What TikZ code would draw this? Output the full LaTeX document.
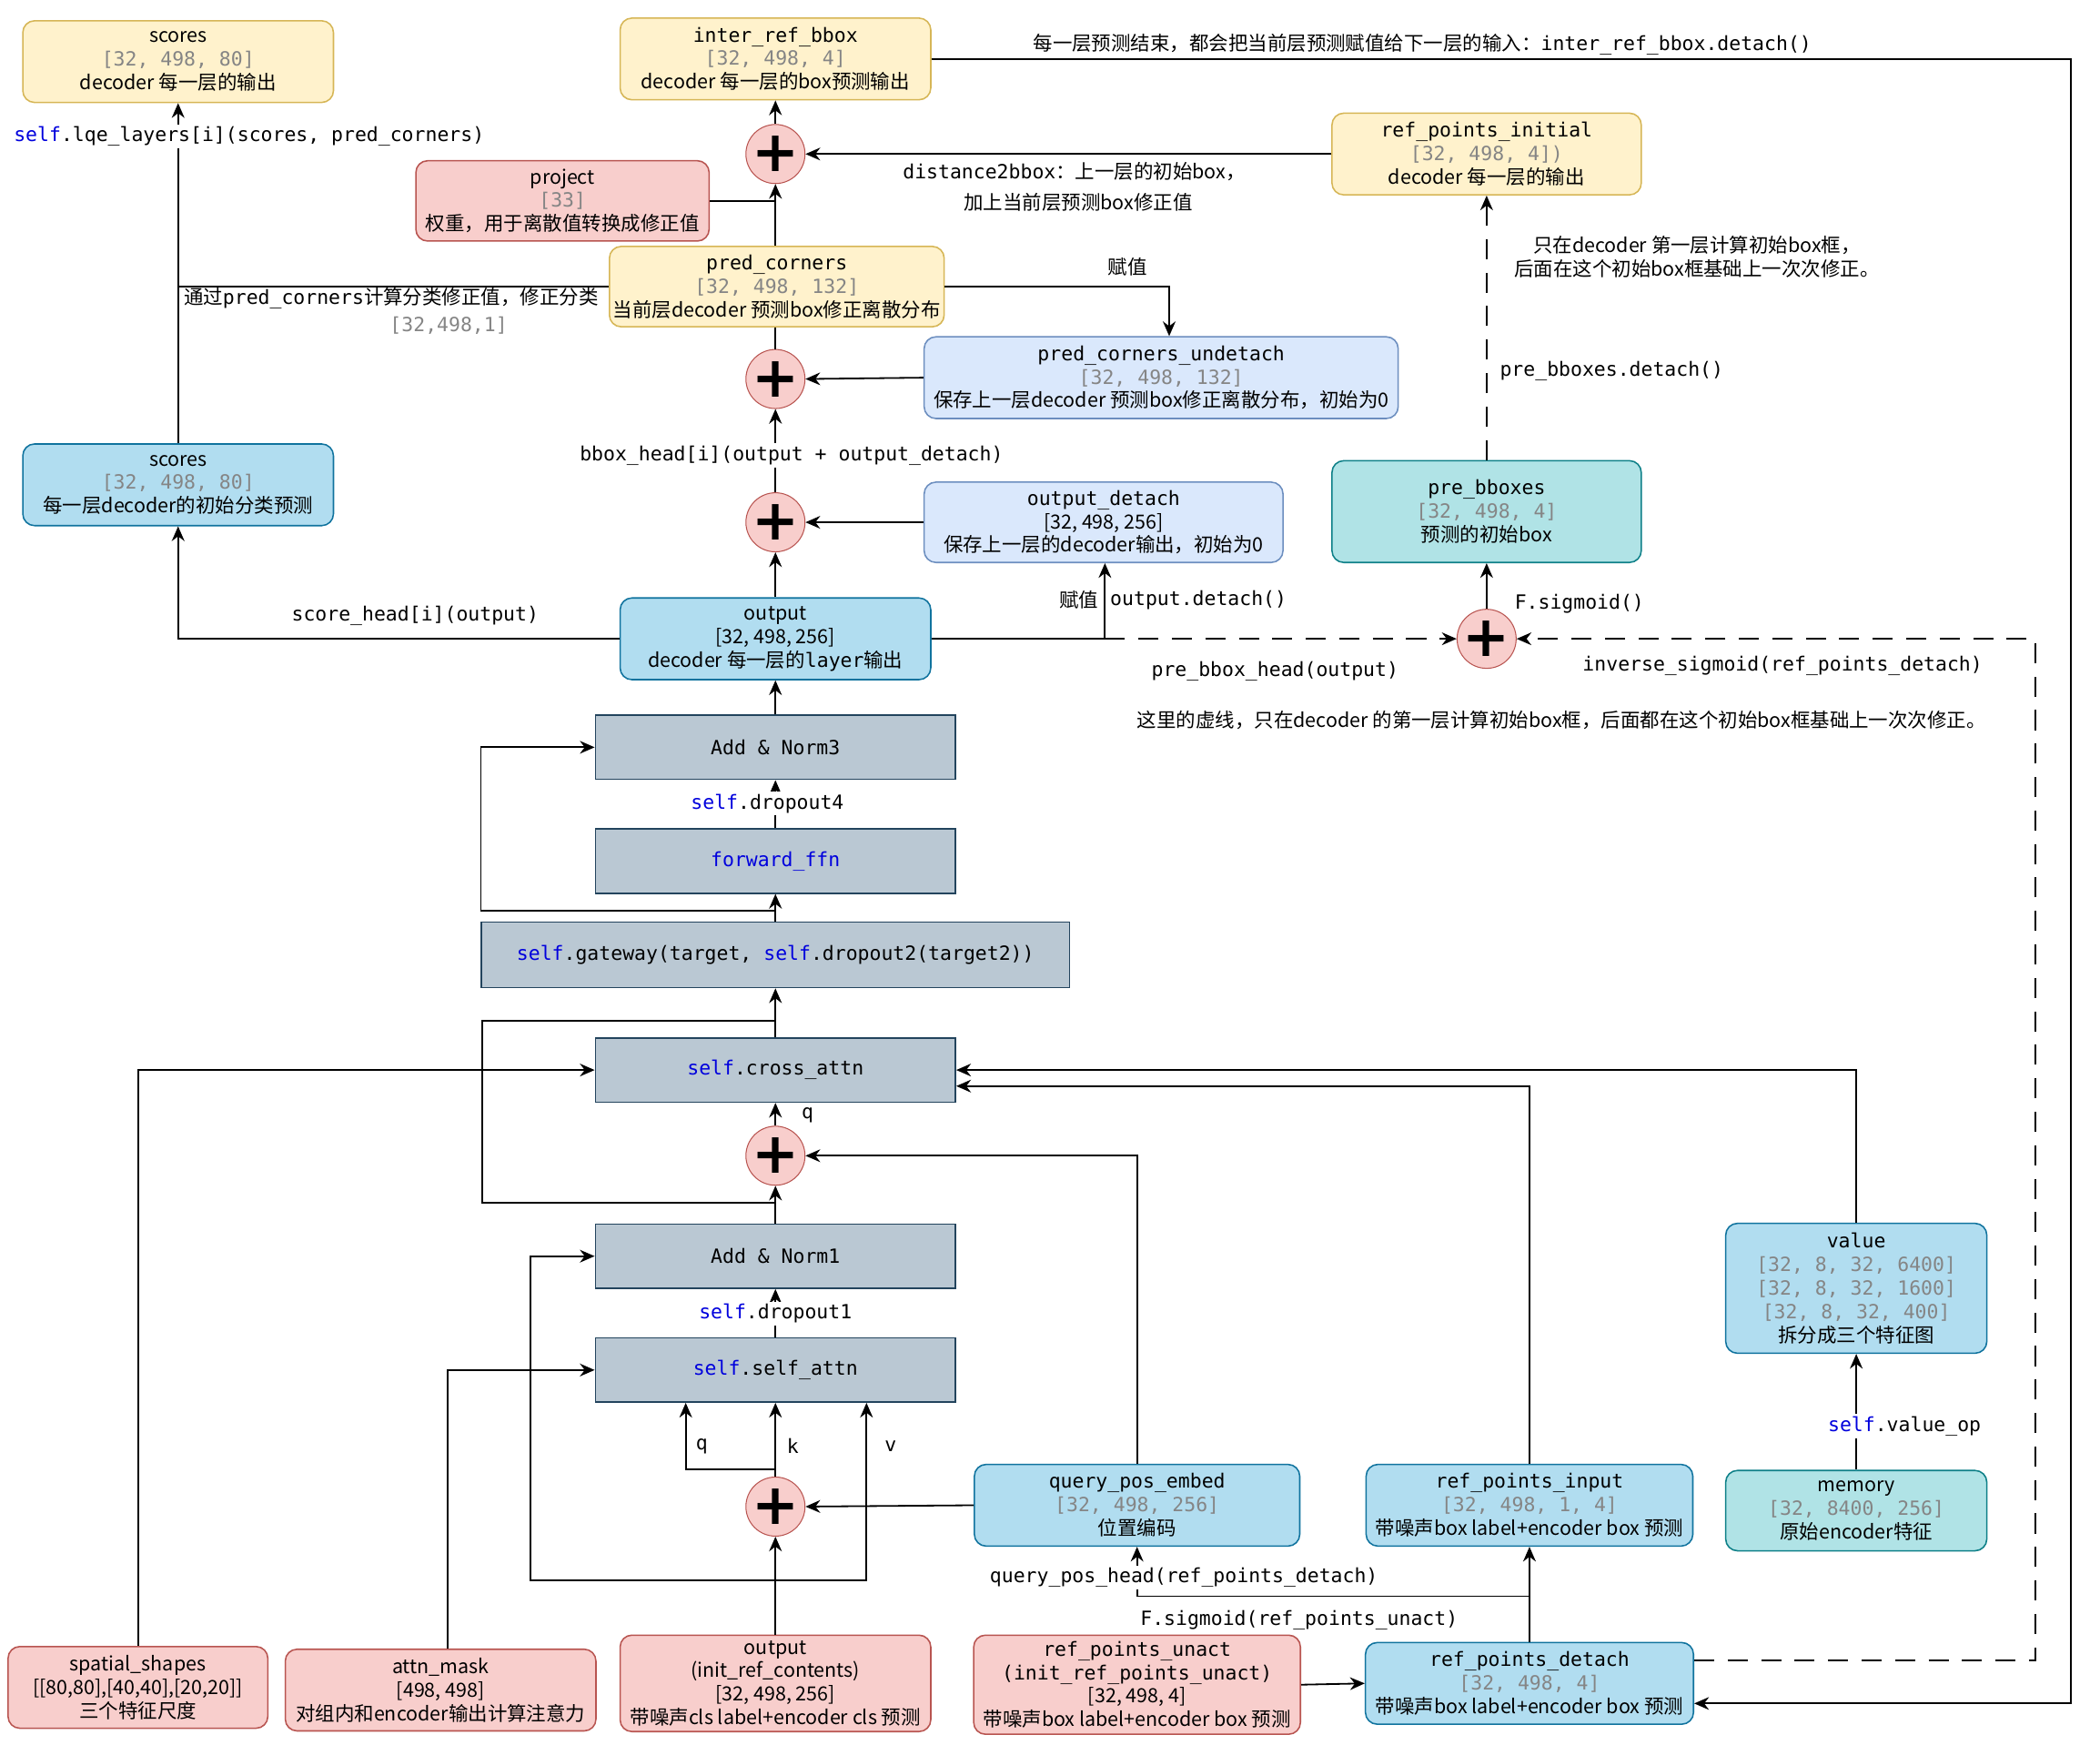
\documentclass[tikz,border=0pt]{standalone}
\usepackage{fontspec}
\setmainfont{Noto Sans CJK SC}
\newfontfamily\codefont{DejaVu Sans Mono}
\newfontfamily\plusfont{DejaVu Sans}
\usetikzlibrary{arrows.meta,positioning}
\definecolor{yellowfill}{HTML}{FFF2CC}
\definecolor{yellowline}{HTML}{D6B656}
\definecolor{redfill}{HTML}{F8CECC}
\definecolor{redline}{HTML}{B85450}
\definecolor{palefill}{HTML}{DAE8FC}
\definecolor{paleline}{HTML}{6C8EBF}
\definecolor{skyfill}{HTML}{B1DDF0}
\definecolor{skyline}{HTML}{10739E}
\definecolor{tealfill}{HTML}{B0E3E6}
\definecolor{tealline}{HTML}{0E8088}
\definecolor{slatefill}{HTML}{BAC8D3}
\definecolor{slateline}{HTML}{23445D}
\definecolor{dimgray}{HTML}{858585}
\definecolor{selfblue}{HTML}{0000DD}
\newcommand{\codetxt}[1]{{\codefont #1}}
\newcommand{\dimtxt}[1]{{\codefont\color{dimgray}#1}}
\newcommand{\selfkw}{{\color{selfblue}self}}

\begin{document}
\begin{tikzpicture}[
  x=0.02cm,
  y=-0.02cm,
  every node/.style={font=\fontsize{8.3}{10}\selectfont, align=center, inner sep=1.5pt},
  box/.style={draw, rounded corners=5pt, line width=0.6pt},
  yellowNode/.style={box, fill=yellowfill, draw=yellowline},
  redNode/.style={box, fill=redfill, draw=redline},
  paleNode/.style={box, fill=palefill, draw=paleline},
  skyNode/.style={box, fill=skyfill, draw=skyline},
  tealNode/.style={box, fill=tealfill, draw=tealline},
  layerNode/.style={draw=slateline, fill=slatefill, line width=0.6pt, minimum width=5.38cm, minimum height=0.96cm, font=\codefont\fontsize{8.3}{10}\selectfont},
  plusNode/.style={circle, draw=redline, fill=redfill, minimum size=0.86cm, inner sep=0pt, font=\plusfont\bfseries\fontsize{24}{24}\selectfont},
  codeLabel/.style={font=\codefont\fontsize{8.3}{10}\selectfont},
  cover/.style={fill=white, inner sep=1pt},
  arr/.style={-{Stealth[length=2.2mm, width=1.9mm]}, line width=0.7pt},
  link/.style={line width=0.7pt},
  dashLine/.style={dash pattern=on 0.3cm off 0.2cm}
]
  \useasboundingbox (0,0) rectangle (1568,1303);

  % Box predictions, upper half.
  \node[yellowNode, minimum width=4.64cm, minimum height=1.22cm] (scoresTop) at (133,46) {scores\\\dimtxt{[32, 498, 80]}\\decoder 每一层的输出};
  \node[yellowNode, minimum width=4.64cm, minimum height=1.22cm] (interBbox) at (579,44) {\codetxt{inter\_ref\_bbox}\\\dimtxt{[32, 498, 4]}\\decoder 每一层的box预测输出};
  \node[plusNode] (plusA) at (579,115) {+};
  \node[redNode, minimum width=4.38cm, minimum height=1.2cm] (project) at (420,150) {project\\\dimtxt{[33]}\\权重，用于离散值转换成修正值};
  \node[yellowNode, minimum width=4.62cm, minimum height=1.22cm] (refInit) at (1110,115) {\codetxt{ref\_points\_initial}\\\dimtxt{[32, 498, 4])}\\decoder 每一层的输出};
  \node[yellowNode, minimum width=5.0cm, minimum height=1.2cm] (predCorners) at (580,214) {\codetxt{pred\_corners}\\\dimtxt{[32, 498, 132]}\\当前层decoder 预测box修正离散分布};
  \node[paleNode, minimum width=7.08cm, minimum height=1.22cm] (predUndet) at (867,282) {\codetxt{pred\_corners\_undetach}\\\dimtxt{[32, 498, 132]}\\保存上一层decoder 预测box修正离散分布，初始为0};
  \node[plusNode] (plusB) at (579,283) {+};
  \node[plusNode] (plusC) at (579,390) {+};
  \node[paleNode, minimum width=5.36cm, minimum height=1.2cm] (outDetach) at (824,390) {\codetxt{output\_detach}\\{[32, 498, 256]}\\保存上一层的decoder输出，初始为0};
  \node[skyNode, minimum width=4.64cm, minimum height=1.22cm] (scoresInit) at (133,362) {scores\\\dimtxt{[32, 498, 80]}\\每一层decoder的初始分类预测};
  \node[skyNode, minimum width=4.64cm, minimum height=1.22cm] (layerOut) at (579,477) {output\\{[32, 498, 256]}\\decoder 每一层的\codetxt{layer}输出};
  \node[tealNode, minimum width=4.62cm, minimum height=1.52cm] (preBboxes) at (1110,382) {\codetxt{pre\_bboxes}\\\dimtxt{[32, 498, 4]}\\预测的初始box};
  \node[plusNode] (plusD) at (1110,477) {+};

  % Decoder layer stack.
  \node[layerNode] (normThree) at (579,558) {Add \& Norm3};
  \node[layerNode] (ffn) at (579,643) {\textcolor{selfblue}{forward\_ffn}};
  \node[layerNode, minimum width=8.78cm, minimum height=0.98cm] (gateway) at (579,713) {\selfkw.gateway(target, \selfkw.dropout2(target2))};
  \node[layerNode] (crossAttn) at (579,799) {\selfkw.cross\_attn};
  \node[plusNode] (plusE) at (579,863) {+};
  \node[layerNode] (normOne) at (579,938) {Add \& Norm1};
  \node[layerNode] (selfAttn) at (579,1023) {\selfkw.self\_attn};
  \node[plusNode] (plusF) at (579,1125) {+};

  % Layer inputs.
  \node[skyNode, minimum width=4.86cm, minimum height=1.22cm] (queryPos) at (849,1124) {\codetxt{query\_pos\_embed}\\\dimtxt{[32, 498, 256]}\\位置编码};
  \node[skyNode, minimum width=4.88cm, minimum height=1.22cm] (refInput) at (1142,1124) {\codetxt{ref\_points\_input}\\\dimtxt{[32, 498, 1, 4]}\\带噪声box label+encoder box 预测};
  \node[skyNode, minimum width=3.9cm, minimum height=1.94cm] (valueMap) at (1386,962) {\codetxt{value}\\\dimtxt{[32, 8, 32, 6400]}\\\dimtxt{[32, 8, 32, 1600]}\\\dimtxt{[32, 8, 32, 400]}\\拆分成三个特征图};
  \node[tealNode, minimum width=3.9cm, minimum height=1.2cm] (memory) at (1386,1128) {memory\\\dimtxt{[32, 8400, 256]}\\原始encoder特征};
  \node[skyNode, minimum width=4.9cm, minimum height=1.22cm] (refDetach) at (1142,1257) {\codetxt{ref\_points\_detach}\\\dimtxt{[32, 498, 4]}\\带噪声box label+encoder box 预测};
  \node[redNode, minimum width=4.88cm, minimum height=1.48cm] (refUnact) at (849,1258) {\codetxt{ref\_points\_unact}\\\codetxt{(init\_ref\_points\_unact)}\\{[32, 498, 4]}\\带噪声box label+encoder box 预测};
  \node[redNode, minimum width=4.64cm, minimum height=1.44cm] (initOut) at (579,1257) {output\\(init\_ref\_contents)\\{[32, 498, 256]}\\带噪声cls label+encoder cls 预测};
  \node[redNode, minimum width=4.64cm, minimum height=1.22cm] (attnMask) at (329,1262) {attn\_mask\\{[498, 498]}\\对组内和encoder输出计算注意力};
  \node[redNode, minimum width=3.88cm, minimum height=1.22cm] (spatial) at (103,1260) {spatial\_shapes\\{[[80,80],[40,40],[20,20]]}\\三个特征尺度};

  % Bend and tap points.
  \coordinate (detachTap) at (825,477);
  \coordinate (dashLow) at (1520,1240);
  \coordinate (loopTop) at (1546,44);
  \coordinate (loopLow) at (1546,1272);
  \coordinate (ffnTap) at (579,680);
  \coordinate (gateTap) at (579,762);
  \coordinate (crossTap) at (579,898);
  \coordinate (qTap) at (579,1097);
  \coordinate (vTap) at (579,1180);
  \coordinate (posTap) at (1142,1192);

  % Upper connectors.
  \draw[arr] (plusA.north) -- (interBbox.south);
  \draw[arr] (refInit.west) -- (plusA.east);
  \draw[arr] (predCorners.north -| plusA) -- (plusA.south);
  \draw[link] (project.east) -- (project.east -| plusA);
  \draw[link] (predCorners.west) -- (predCorners.west -| scoresInit);
  \draw[arr] (scoresInit.north) -- (scoresTop.south);
  \draw[arr] (predCorners.east) -| ([xshift=0.12cm]predUndet.north);
  \draw[arr] (predUndet.west) -- (plusB.east);
  \draw[link] (plusB.north) -- (predCorners.south -| plusB);
  \draw[arr] (plusC.north) -- (plusB.south);
  \draw[arr] (outDetach.west) -- (plusC.east);
  \draw[arr] (layerOut.north) -- (plusC.south);
  \draw[arr] (layerOut.west) -| (scoresInit.south);
  \draw[link] (layerOut.east) -- (detachTap);
  \draw[arr] (detachTap) -- (detachTap |- outDetach.south);
  \draw[arr, dashLine] (detachTap) -- (plusD.west);
  \draw[arr] (plusD.north) -- (preBboxes.south);
  \draw[arr, dashLine] (preBboxes.north) -- (refInit.south);
  \draw[arr, dashLine] (refDetach.east |- dashLow) -- (dashLow) |- (plusD.east);
  \draw[arr] (interBbox.east) -- (loopTop) -- (loopLow) -- (refDetach.east |- loopLow);

  % Layer stack connectors.
  \draw[arr] (normThree.north) -- (layerOut.south);
  \draw[arr] (ffn.north) -- (normThree.south);
  \draw[arr] (gateway.north) -- (ffn.south);
  \draw[arr] (ffnTap) -| ([xshift=-1.7cm]normThree.west) -- (normThree.west);
  \draw[arr] (crossAttn.north) -- (gateway.south);
  \draw[link] (crossTap) -- ++(-219,0) |- (gateTap);
  \draw[arr] (spatial.north) |- (crossAttn.west);
  \draw[arr] (valueMap.north) |- (crossAttn.east);
  \draw[arr] (refInput.north) |- ([yshift=-0.24cm]crossAttn.east);
  \draw[arr] (queryPos.north) |- (plusE.east);
  \draw[arr] (plusE.north) -- (crossAttn.south);
  \draw[arr] (normOne.north) -- (plusE.south);
  \draw[arr] (selfAttn.north) -- (normOne.south);
  \draw[arr] (plusF.north) -- (selfAttn.south);
  \draw[arr] (qTap) -| ([xshift=-1.34cm]selfAttn.south);
  \draw[arr] (initOut.north) -- (plusF.south);
  \draw[arr] (vTap) -| ([xshift=1.36cm]selfAttn.south);
  \draw[arr] (vTap) -- ++(-183,0) |- (normOne.west);
  \draw[arr] ([xshift=0.1cm]attnMask.north) |- (selfAttn.west);
  \draw[arr] (queryPos.west) -- (plusF.east);
  \draw[arr] (memory.north) -- (valueMap.south);
  \draw[arr] (refDetach.north) -- (refInput.south);
  \draw[arr] (posTap) -| (queryPos.south);
  \draw[arr] (refUnact.east) -- (refDetach.west);

  % Labels.
  \node (topNote) at (1062,33) {每一层预测结束，都会把当前层预测赋值给下一层的输入：\codetxt{inter\_ref\_bbox.detach()}};
  \node[codeLabel, cover] (lqeLabel) at (186,102) {\selfkw.lqe\_layers[i](scores, pred\_corners)};
  \node (distLabel) at (802,128) {\codetxt{distance2bbox}：上一层的初始box，};
  \node (distNote) at (805,151) {加上当前层预测box修正值};
  \node (fixLabel) at (292,223) {通过\codetxt{pred\_corners}计算分类修正值，修正分类};
  \node[codeLabel, text=dimgray] (fixDim) at (335,243) {[32,498,1]};
  \node (assignA) at (842,199) {赋值};
  \node (firstNote) at (1267,192) {只在decoder 第一层计算初始box框，\\后面在这个初始box框基础上一次次修正。};
  \node[codeLabel, anchor=west] (detachLabel) at (1117,277) {pre\_bboxes.detach()};
  \node[codeLabel, cover] (bboxHead) at (591,340) {bbox\_head[i](output + output\_detach)};
  \node[codeLabel] (scoreHead) at (310,460) {score\_head[i](output)};
  \node[anchor=east] (assignB) at (823,448) {赋值};
  \node[codeLabel, anchor=west] (outDetachLabel) at (826,448) {output.detach()};
  \node[codeLabel, anchor=west] (sigLabel) at (1128,451) {F.sigmoid()};
  \node[codeLabel] (preHead) at (952,501) {pre\_bbox\_head(output)};
  \node[codeLabel] (invSig) at (1331,497) {inverse\_sigmoid(ref\_points\_detach)};
  \node (dashNote) at (1166,538) {这里的虚线，只在decoder 的第一层计算初始box框，后面都在这个初始box框基础上一次次修正。};
  \node[codeLabel, cover] (dropFour) at (573,600) {\selfkw.dropout4};
  \node[codeLabel] (qCross) at (603,833) {q};
  \node[codeLabel, cover] (dropOne) at (579,981) {\selfkw.dropout1};
  \node[codeLabel] (qSelf) at (524,1080) {q};
  \node[codeLabel] (kSelf) at (592,1080) {k};
  \node[codeLabel] (vSelf) at (665,1080) {v};
  \node[codeLabel, cover] (valueOp) at (1422,1065) {\selfkw.value\_op};
  \node[codeLabel, cover] (posHead) at (884,1178) {query\_pos\_head(ref\_points\_detach)};
  \node[codeLabel] (sigUnact) at (970,1210) {F.sigmoid(ref\_points\_unact)};
\end{tikzpicture}
\end{document}
